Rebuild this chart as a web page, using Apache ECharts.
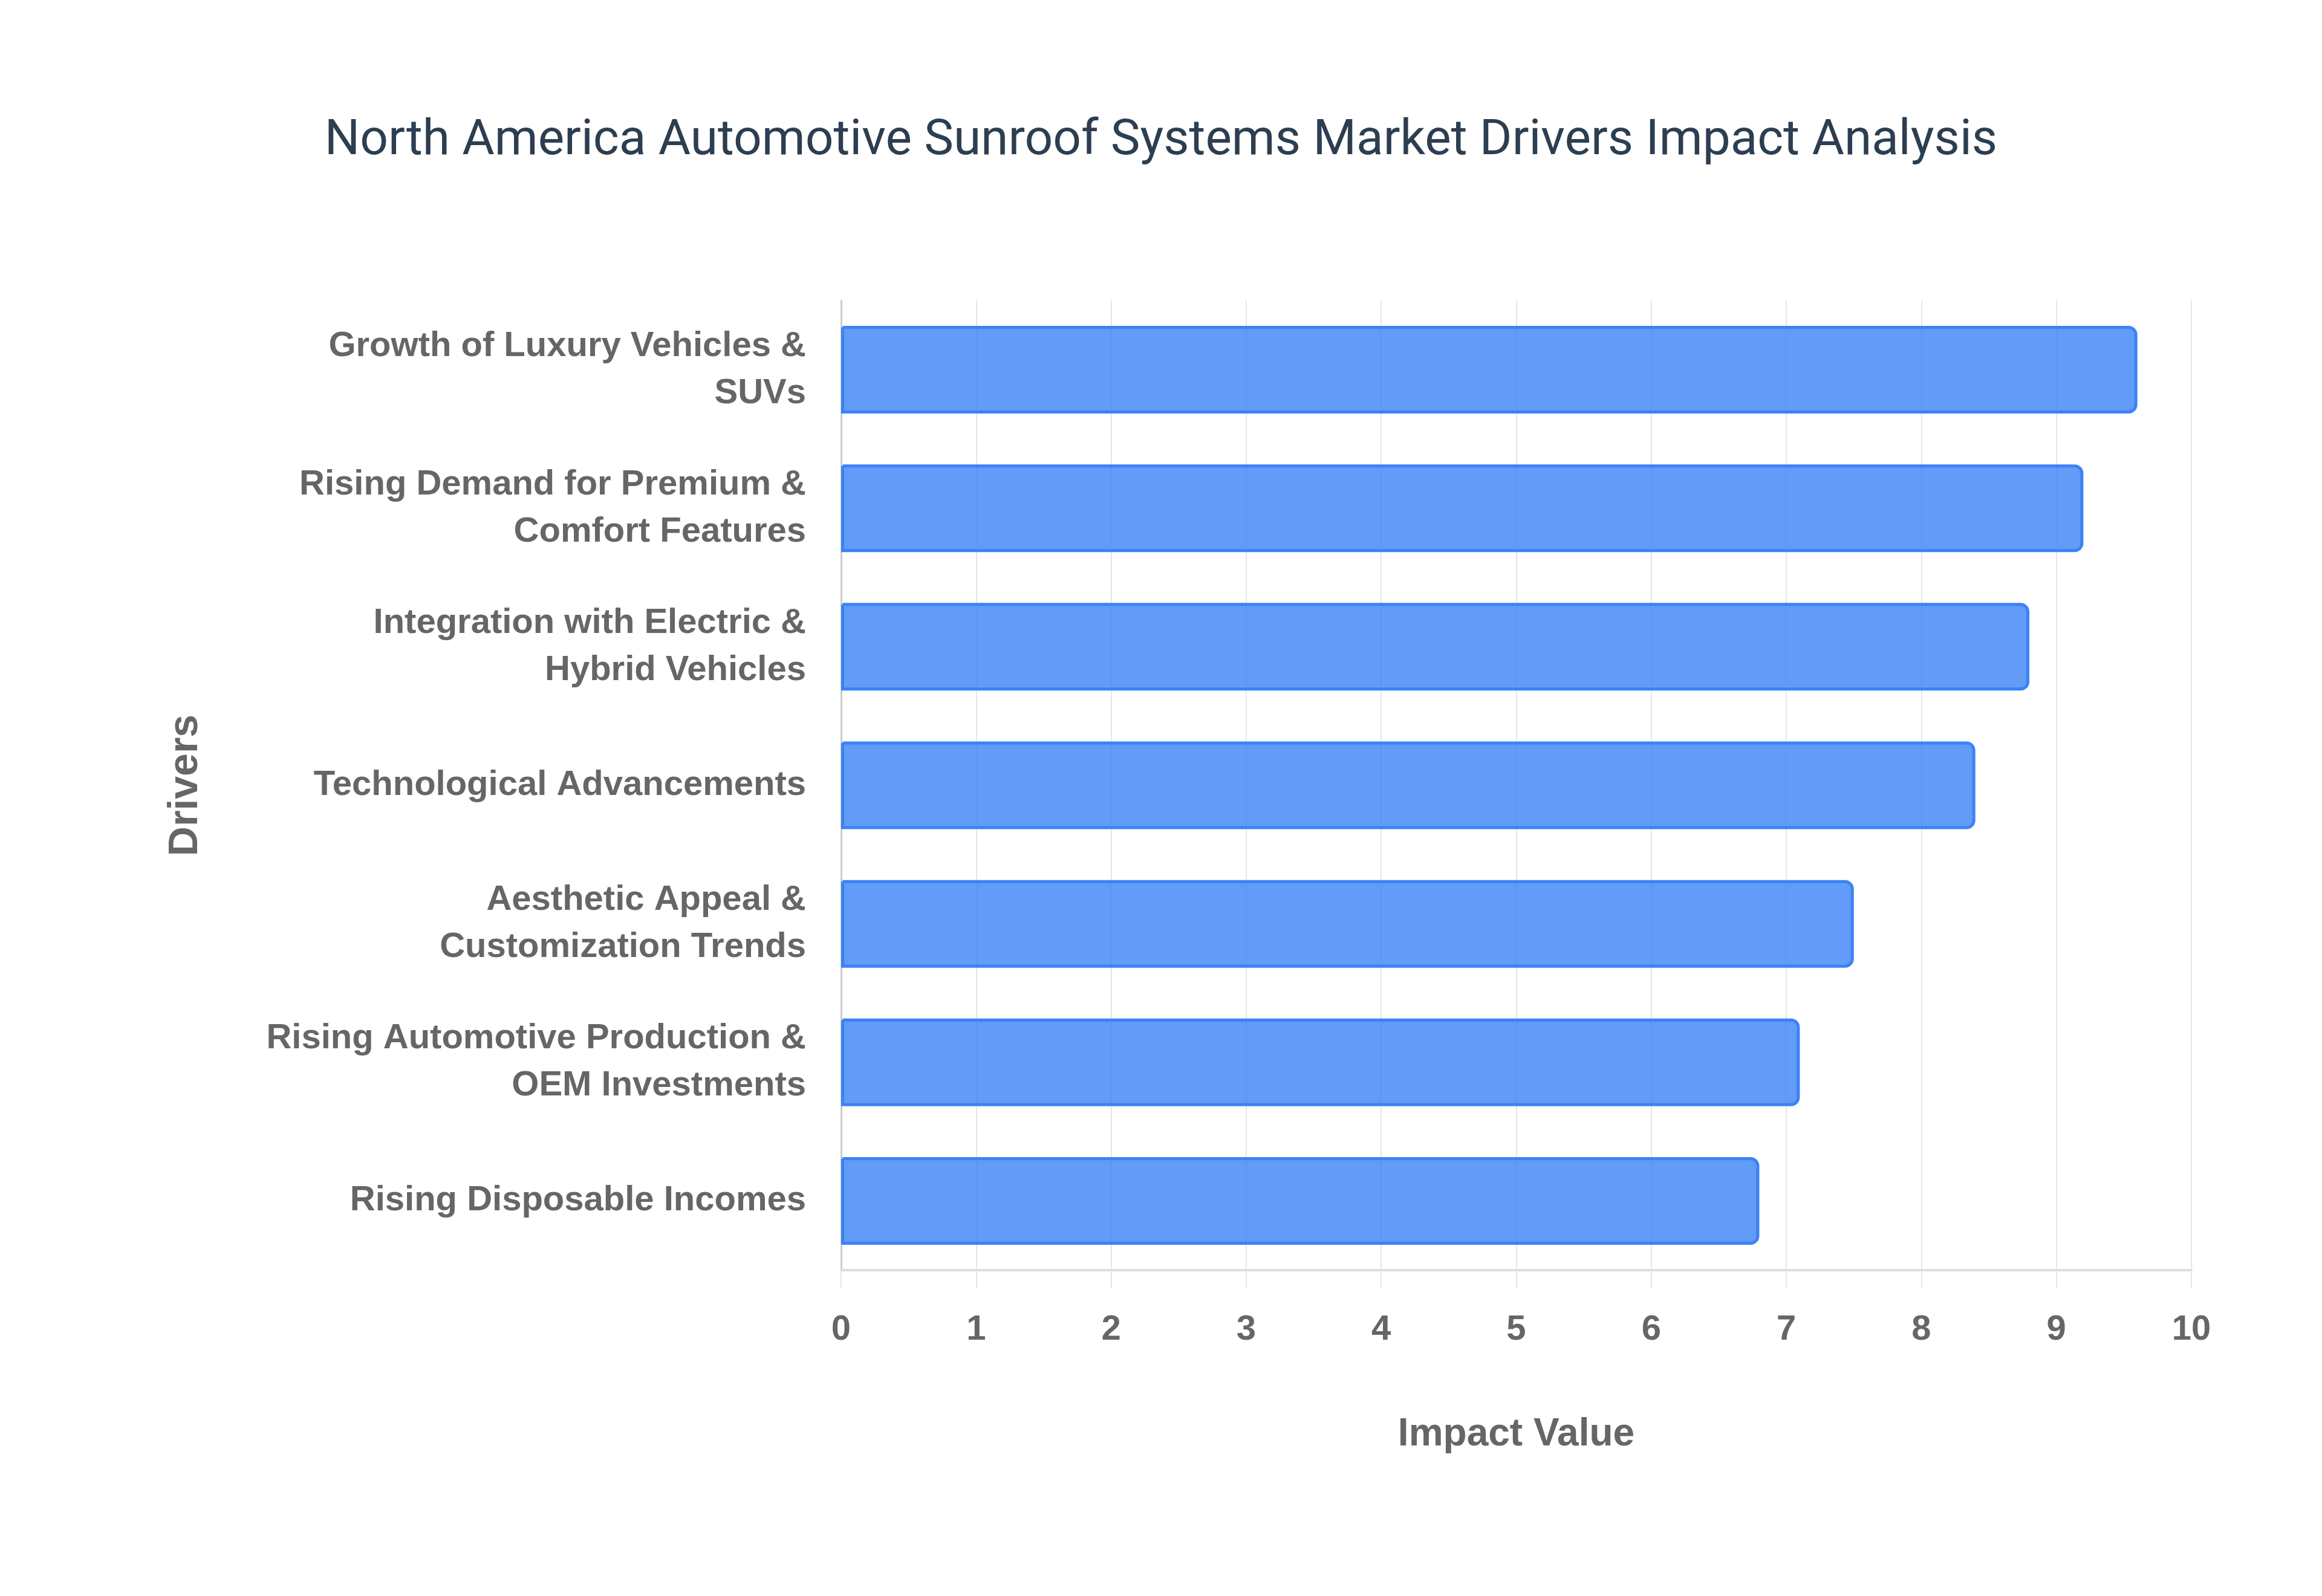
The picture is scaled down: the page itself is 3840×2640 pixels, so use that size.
<!DOCTYPE html>
<html>
<head>
<meta charset="utf-8">
<script src="https://cdn.jsdelivr.net/npm/echarts@6/dist/echarts.min.js"></script>
<style>
html,body{margin:0;padding:0;background:#fff;}
#main{width:3840px;height:2640px;}
</style>
</head>
<body>
<div id="main"></div>
<script>
const titleText = 'North America Automotive Sunroof Systems Market Drivers Impact Analysis';
const categories = [
  'Growth of Luxury Vehicles & SUVs',
  'Rising Demand for Premium & Comfort Features',
  'Integration with Electric & Hybrid Vehicles',
  'Technological Advancements',
  'Aesthetic Appeal & Customization Trends',
  'Rising Automotive Production & OEM Investments',
  'Rising Disposable Incomes'
];
const impactValues = [9.6, 9.2, 8.8, 8.4, 7.5, 7.1, 6.8];
const xAxisName = 'Impact Value';
const yAxisName = 'Drivers';

function wrapLabel(s) {
  const i = s.indexOf(' & ');
  if (i < 0) return s;
  return s.slice(0, i + 2) + '\n' + s.slice(i + 3);
}

const chart = echarts.init(document.getElementById('main'), null, {renderer: 'canvas'});
chart.setOption({
  backgroundColor: '#ffffff',
  animation: false,
  title: {
    text: titleText,
    left: 'center',
    top: 188,
    textStyle: {
      fontFamily: 'Roboto, "Liberation Sans", sans-serif',
      fontSize: 82,
      fontWeight: 'normal',
      color: '#2c3e50'
    }
  },
  grid: {
    left: 1391,
    right: 216,
    top: 497,
    bottom: 539,
    containLabel: false
  },
  xAxis: {
    type: 'value',
    min: 0,
    max: 10,
    interval: 1,
    name: xAxisName,
    nameLocation: 'middle',
    nameGap: 240,
    nameTextStyle: {
      fontFamily: '"Liberation Sans", Arial, sans-serif',
      fontSize: 64,
      fontWeight: 'bold',
      color: '#666666',
      verticalAlign: 'top'
    },
    axisLine: {show: true, lineStyle: {color: '#dddddd', width: 4}},
    axisTick: {show: true, length: 30, lineStyle: {color: '#e6e6e6', width: 2}},
    splitLine: {show: true, lineStyle: {color: '#e6e6e6', width: 2}},
    axisLabel: {
      margin: 70,
      fontFamily: '"Liberation Sans", Arial, sans-serif',
      fontSize: 58,
      fontWeight: 'bold',
      color: '#666666'
    }
  },
  yAxis: {
    type: 'category',
    data: categories,
    inverse: true,
    name: yAxisName,
    nameLocation: 'middle',
    nameGap: 1050,
    nameRotate: 90,
    nameTextStyle: {
      fontFamily: '"Liberation Sans", Arial, sans-serif',
      fontSize: 68,
      fontWeight: 'bold',
      color: '#666666'
    },
    axisLine: {show: true, lineStyle: {color: '#cccccc', width: 3}},
    axisTick: {show: false},
    splitLine: {show: false},
    axisLabel: {
      margin: 58,
      formatter: wrapLabel,
      fontFamily: '"Liberation Sans", Arial, sans-serif',
      fontSize: 58,
      lineHeight: 78,
      fontWeight: 'bold',
      color: '#666666',
      align: 'right'
    }
  },
  series: [{
    type: 'bar',
    data: impactValues,
    barWidth: 145,
    itemStyle: {
      color: 'rgba(59,130,246,0.8)',
      borderColor: '#3b82f6',
      borderWidth: 5,
      borderRadius: [0, 12, 12, 0]
    }
  }]
});
</script>
</body>
</html>
